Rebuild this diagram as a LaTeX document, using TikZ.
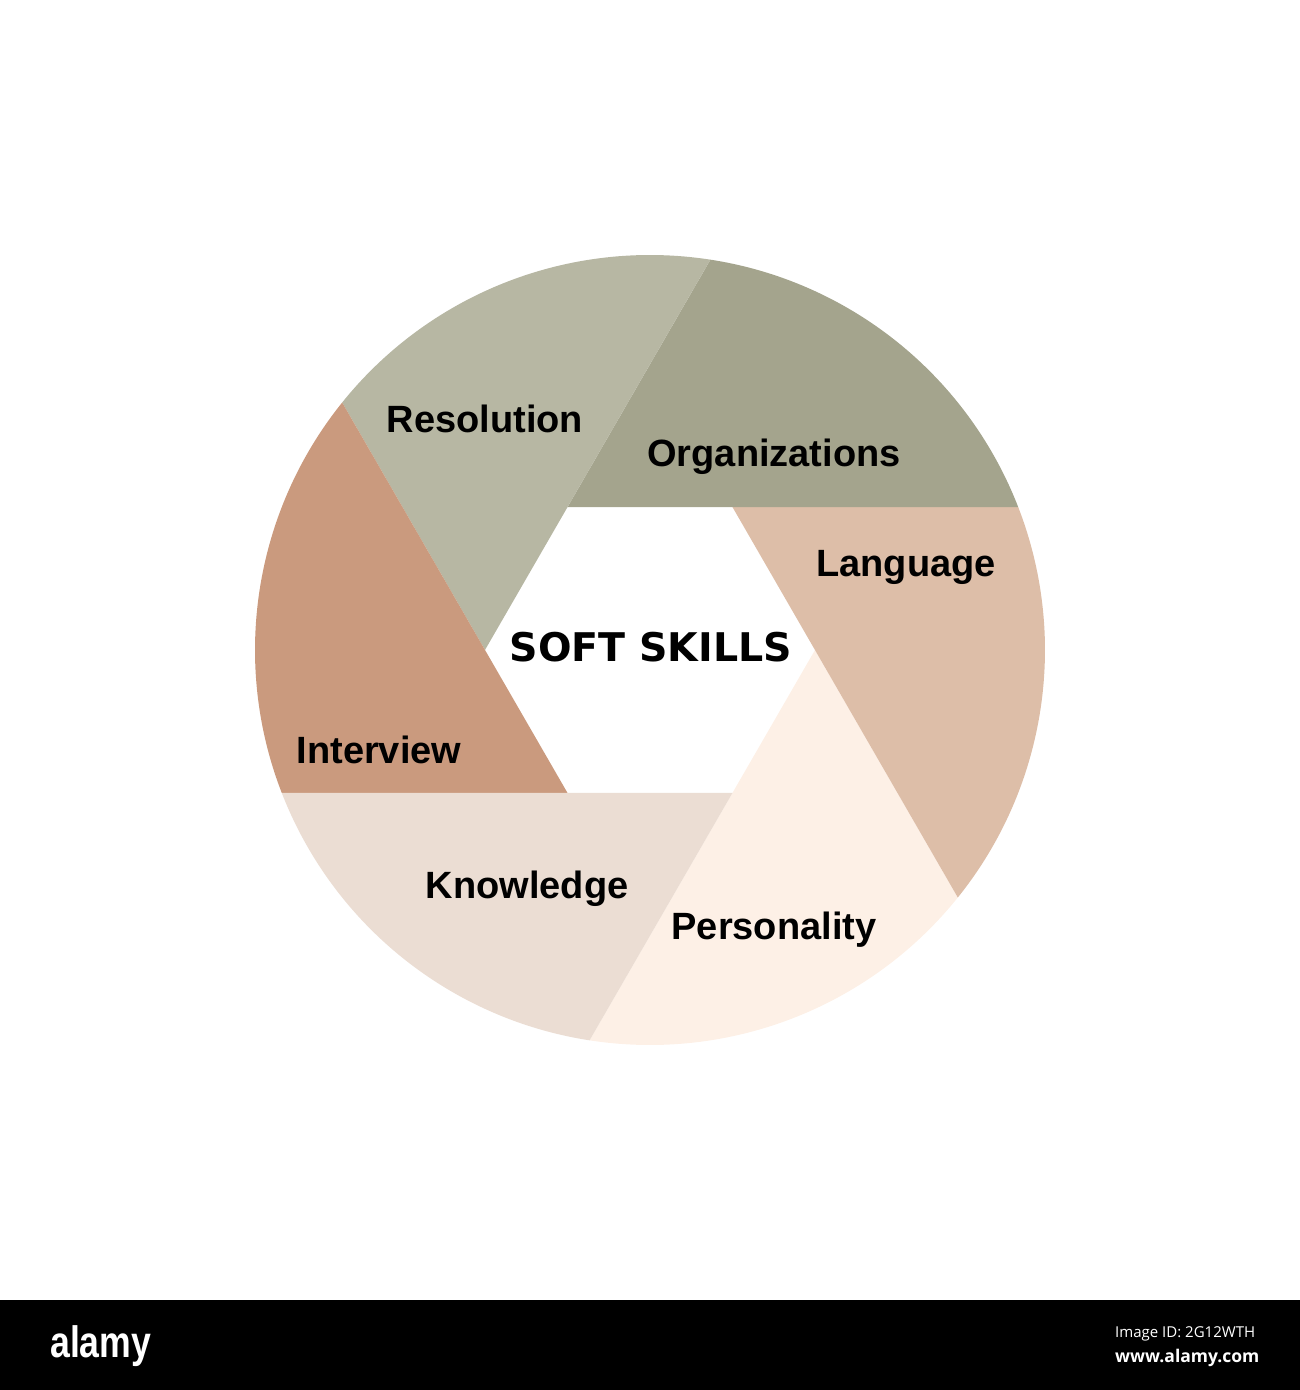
\documentclass[tikz,border=0pt]{standalone}
\usepackage{fontspec}
\setmainfont{Liberation Sans}
\newfontfamily\heavyfont{DejaVu Sans}
\newfontfamily\markfont{Open Sans}
\usetikzlibrary{calc}
\definecolor{cres}{HTML}{B7B7A3}
\definecolor{corg}{HTML}{A4A48D}
\definecolor{clan}{HTML}{DDBEA8}
\definecolor{cper}{HTML}{FDF0E6}
\definecolor{ckno}{HTML}{EBDDD3}
\definecolor{cint}{HTML}{CA9A7E}

\begin{document}
\begin{tikzpicture}[x=1pt,y=1pt,
    blade/.style={font=\fontsize{38}{44}\selectfont\bfseries,anchor=base,inner sep=0pt},
    stocktext/.style={text=white,anchor=base west,inner sep=0pt}]
\useasboundingbox (-650,-740) rectangle (650,650);
\foreach \k in {0,...,5}{
   \coordinate (v\k) at (60*\k:165);
}
% blades of the aperture
\foreach \k/\c in {0/cper,1/clan,2/corg,3/cres,4/cint,5/ckno}{
   \pgfmathsetmacro\a{60*\k-38.8}
   \pgfmathsetmacro\b{60*\k-98.8}
   \fill[\c] (v\k) -- (\a:395) arc[start angle=\a, end angle=\b, radius=395] -- cycle;
}
\node[blade] (res) at (-165,217) {Resolution};
\node[blade] (org) at (124,183) {Organizations};
\node[blade] (lan) at (256,74) {Language};
\node[blade] (int) at (-271,-113) {Interview};
\node[blade] (kno) at (-123,-248) {Knowledge};
\node[blade] (per) at (124,-289) {Personality};
\node[anchor=base,inner sep=0pt,font=\heavyfont\fontsize{39.5}{44}\selectfont\bfseries] (soft) at (1,-11) {SOFT SKILLS};
% stock bar
\fill[black] (-650,-740) rectangle (650,-650);
\node[stocktext,font=\fontsize{44}{48}\selectfont\bfseries] (logo) at (-600,-707) {\scalebox{0.81}[1]{alamy}};
\node[stocktext,font=\markfont\fontsize{15}{18}\selectfont] (imgid) at (465,-687) {Image ID: 2G12WTH};
\node[stocktext,font=\markfont\fontsize{17.5}{20}\selectfont\bfseries] (www) at (465,-712) {www.alamy.com};
\end{tikzpicture}
\end{document}
